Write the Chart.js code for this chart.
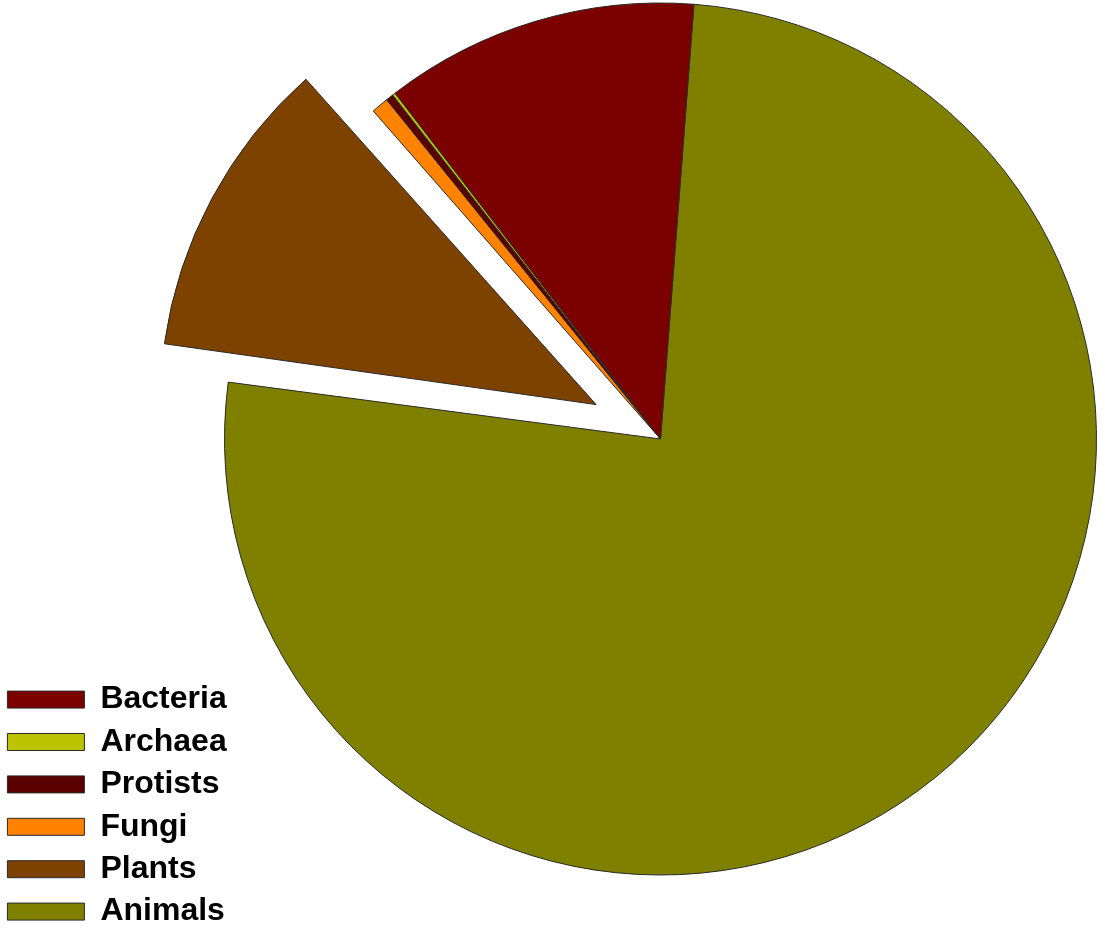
<!DOCTYPE html>
<html>
<head>
<meta charset="utf-8">
<script src="https://cdn.jsdelivr.net/npm/chart.js@4/dist/chart.umd.min.js"></script>
<style>
  html, body { margin: 0; padding: 0; background: #ffffff; overflow: hidden; }
  #wrap { width: 1105px; height: 931px; position: relative; overflow: hidden; }
  #c { position: absolute; left: -3px; top: -60px; }
</style>
</head>
<body>
<div id="wrap"><canvas id="c" width="1327" height="998"></canvas></div>
<script>
// Legend order (as in the reference legend)
const categories = ['Bacteria', 'Archaea', 'Protists', 'Fungi', 'Plants', 'Animals'];
// Share of the pie (%)
const shares = [11.64, 0.11, 0.28, 0.64, 11.47, 75.86];
const colors = ['#7b0000', '#bcc400', '#5a0000', '#ff8200', '#7d4100', '#808000'];
// Exploded slice
const explodedCategory = 'Plants';

// Slices run clockwise from Animals, so the drawing order is the legend order reversed
const drawLabels = categories.slice().reverse();
const drawValues = shares.slice().reverse();
const drawColors = colors.slice().reverse();
// Chart.js translates an arc by offset/4
const drawOffsets = drawLabels.map(l => l === explodedCategory ? 292 : 0);

Chart.defaults.font.family = "'Liberation Sans', Arial, Helvetica, sans-serif";

// Chart.js also enlarges an offset arc's radius; keep the exploded slice at the pie's radius
const keepRadius = {
  id: 'keepRadius',
  afterDatasetUpdate(chart, args) {
    const meta = args.meta;
    meta.data.forEach(arc => {
      const off = (arc.options && arc.options.offset) ? arc.options.offset / 4 : 0;
      if (off) {
        const fix = 1 - Math.sin(Math.min(Math.PI, arc.circumference || 0));
        arc.outerRadius = arc.outerRadius - off * fix;
      }
    });
  }
};

new Chart(document.getElementById('c'), {
  type: 'pie',
  data: {
    labels: drawLabels,
    datasets: [{
      data: drawValues,
      backgroundColor: drawColors,
      borderColor: '#2a2a2a',
      borderWidth: 1,
      offset: drawOffsets,
      hoverOffset: 0
    }]
  },
  options: {
    responsive: false,
    animation: false,
    events: [],
    rotation: 4.4,
    radius: 436,
    layout: { padding: 0 },
    plugins: {
      tooltip: { enabled: false },
      title: { display: false },
      legend: {
        display: true,
        position: 'chartArea',
        align: 'end',
        reverse: true,
        labels: {
          boxWidth: 77,
          boxHeight: 17,
          padding: 10.4,
          color: '#000000',
          font: { size: 32, weight: 'bold' }
        }
      }
    }
  },
  plugins: [keepRadius]
});
</script>
</body>
</html>
